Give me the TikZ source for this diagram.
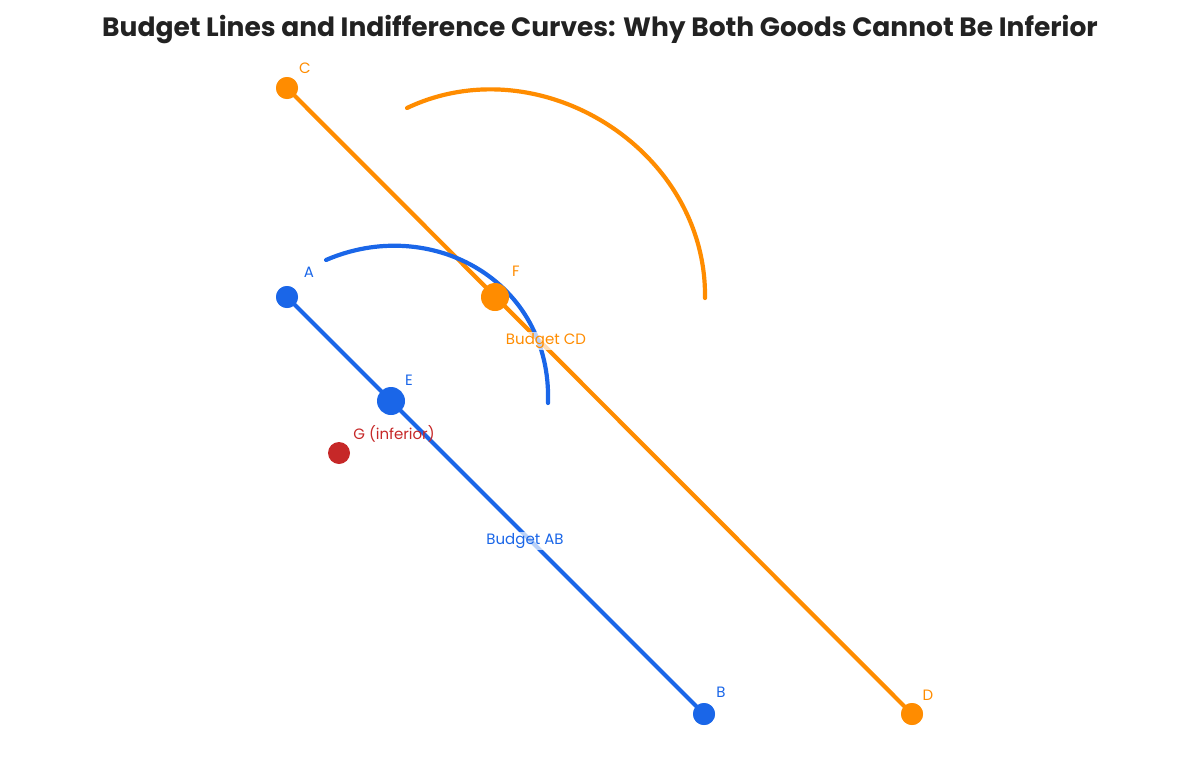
\documentclass[tikz,border=0pt]{standalone}
\usepackage{fontspec}
\setmainfont{Poppins}
\definecolor{bl}{HTML}{1A66E8}
\definecolor{orr}{HTML}{FF8C00}
\definecolor{rd}{HTML}{C62828}
\definecolor{tt}{HTML}{222222}
\begin{document}
\begin{tikzpicture}[x=1pt,y=-1pt,
  dot/.style={circle,inner sep=0pt,minimum size=#1},
  lbl/.style={font=\fontsize{15}{17}\selectfont,inner sep=1pt},
  halo/.style={lbl,fill=white,fill opacity=0.7,text opacity=1}]
\useasboundingbox (0,0) rectangle (1200,763);
\node[font=\fontsize{26.5}{30}\selectfont\bfseries,text=tt] (t) at (600,30) {Budget Lines and Indifference Curves: Why Both Goods Cannot Be Inferior};
\node[dot=22pt,fill=bl] (A) at (287,297) {};
\node[dot=22pt,fill=bl] (B) at (704,714) {};
\node[dot=22pt,fill=orr] (C) at (287,88) {};
\node[dot=22pt,fill=orr] (D) at (912,714) {};
\coordinate (E) at (391,401);
\coordinate (F) at (495,297);
\draw[bl,line width=4.2pt] (A.center) -- (B.center);
\draw[orr,line width=4.2pt] (C.center) -- (D.center);
\draw[orr,line width=4.2pt,line cap=round] (407,108) .. controls (540,45) and (707,150) .. (705,298);
\draw[bl,line width=4.2pt,line cap=round] (326,260) .. controls (430,215) and (552,280) .. (548,403);
\node[dot=28pt,fill=bl] (Ed) at (E) {};
\node[dot=28pt,fill=orr] (Fd) at (F) {};
\node[dot=22pt,fill=rd] (G) at (339,453) {};
\fill[bl] (A) circle (11pt); \fill[bl] (B) circle (11pt);
\fill[orr] (C) circle (11pt); \fill[orr] (D) circle (11pt);
\node[lbl,text=orr] (lC) at (305,68) {C};
\node[lbl,text=bl] (lA) at (309,272) {A};
\node[lbl,text=orr] (lF) at (516,271) {F};
\node[lbl,text=bl] (lE) at (409,380) {E};
\node[lbl,text=bl] (lB) at (721,692) {B};
\node[lbl,text=orr] (lD) at (928,695) {D};
\node[lbl,text=rd] (lG) at (394,434) {G (inferior)};
\node[halo,text=orr] (bCD) at (546,341) {Budget CD};
\node[halo,text=bl] (bAB) at (525,541) {Budget AB};
\end{tikzpicture}
\end{document}
